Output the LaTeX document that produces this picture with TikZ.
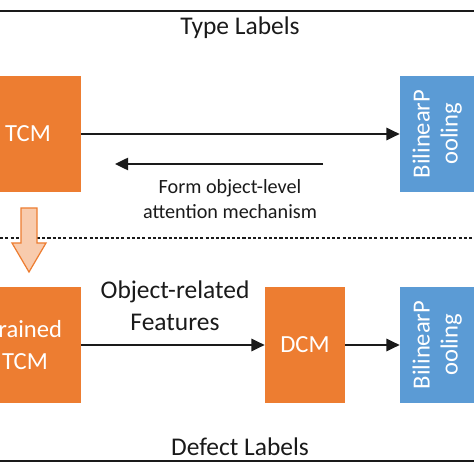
\documentclass[tikz,border=0pt]{standalone}
\usepackage{fontspec}
\setmainfont{Carlito}
\usetikzlibrary{arrows.meta,positioning}
\definecolor{Ink}{HTML}{1A1A1A}
\definecolor{Block}{HTML}{ED7D31}
\definecolor{BlockLight}{HTML}{F8CBAD}
\definecolor{Pool}{HTML}{5B9BD5}

\begin{document}
\begin{tikzpicture}[x=0.02cm,y=0.02cm,>={Triangle[length=7.5pt,width=7pt]},
  module/.style={fill=Block,text=white,minimum width=2.12cm,minimum height=2.32cm,inner sep=0pt,align=center,font=\fontsize{14}{18}\selectfont},
  pooling/.style={fill=Pool,text=white,minimum width=1.52cm,minimum height=2.32cm,inner sep=0pt,font=\fontsize{14}{16}\selectfont},
  flow/.style={Ink,line width=1.2pt,->},
  caption/.style={Ink,font=\fontsize{14.5}{18}\selectfont,align=center}]
  \useasboundingbox (0,0) rectangle (474,474);
  % frame lines
  \draw[Ink,line width=1.4pt] (0,463) -- (474,463);
  \draw[Ink,line width=1.4pt] (0,13) -- (474,13);
  \draw[Ink,line width=1pt,dash pattern=on 1.8pt off 1.2pt] (0,236) -- (474,236);
  % type branch
  \node[caption] (typelab) at (240,446) {Type Labels};
  \node[module] (tcm) at (28,340) {TCM};
  \node[pooling] (poolA) at (438,340) {\rotatebox{90}{\begin{tabular}{@{}c@{}}BilinearP\\ooling\end{tabular}}};
  \draw[flow] (tcm) -- (poolA);
  \coordinate (backstart) at (323,310);
  \coordinate (backend) at (115,310);
  \draw[flow] (backstart) -- (backend);
  \node[Ink,align=center,font=\fontsize{11.5}{14}\selectfont] (formtxt) at (230,275) {Form object-level\\attention mechanism};
  % transfer
  \draw[Block,fill=BlockLight,line width=0.7pt] (21,266) -- (37,266) -- (37,231) -- (46,231) -- (29,202) -- (12,231) -- (21,231) -- cycle;
  % defect branch
  \node[module,minimum width=2.24cm] (trained) at (25,129) {Trained\\TCM};
  \node[module,minimum width=1.6cm] (dcm) at (305,129) {DCM};
  \node[pooling] (poolB) at (438,129) {\rotatebox{90}{\begin{tabular}{@{}c@{}}BilinearP\\ooling\end{tabular}}};
  \node[caption] (objtxt) at (175,168) {Object-related\\Features};
  \draw[flow] (trained) -- (dcm);
  \draw[flow] (dcm) -- (poolB);
  \node[caption] (defectlab) at (240,27) {Defect Labels};
\end{tikzpicture}
\end{document}
